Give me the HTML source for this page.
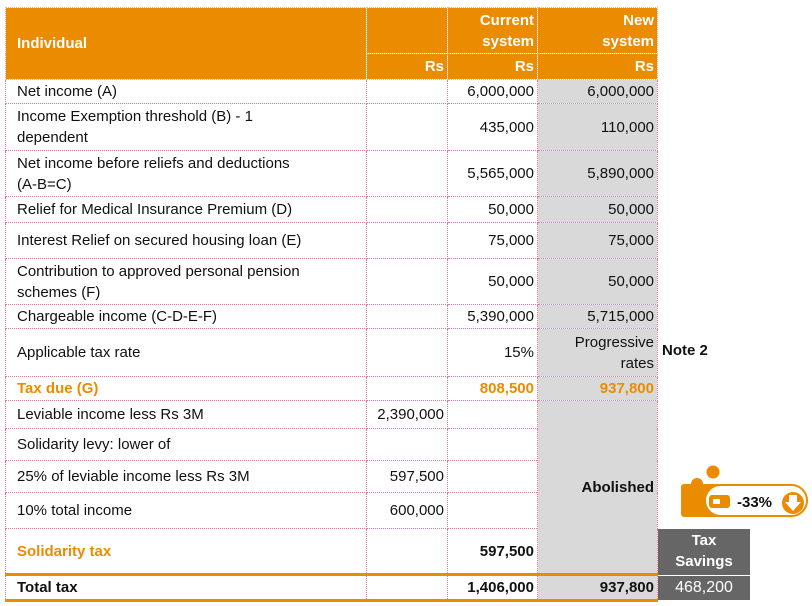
<!DOCTYPE html>
<html><head><meta charset="utf-8"><style>
body{margin:0;background:#fff;width:812px;height:606px;position:relative;overflow:hidden;font-family:"Liberation Sans",sans-serif;font-size:15px;color:#111}
table{position:absolute;left:5px;top:7px;border-collapse:collapse;table-layout:fixed}
td{border:1px dotted #e27a96;padding:0 3px 0 11px;line-height:21px;vertical-align:middle;overflow:hidden}
td.n{text-align:right;padding:0 3px 0 3px}
.h td{background:#eb8c00;color:#fff;font-weight:bold;border-color:#f5b0a0}
.g{background:#d9d9d9}
.o{color:#eb8c00;font-weight:bold}
.b{font-weight:bold}
tr.t td{border-top:3px solid #eb8c00;border-bottom:3px solid #eb8c00}
</style></head><body>
<table>
<colgroup><col style="width:361px"><col style="width:81px"><col style="width:90px"><col style="width:120px"></colgroup>
<tr class="h" style="height:46px"><td rowspan="2">Individual</td><td></td><td class="n">Current<br>system</td><td class="n">New<br>system</td></tr>
<tr class="h" style="height:26px"><td class="n">Rs</td><td class="n">Rs</td><td class="n">Rs</td></tr>
<tr style="height:24px"><td>Net income (A)</td><td></td><td class="n">6,000,000</td><td class="n g">6,000,000</td></tr>
<tr style="height:47px"><td>Income Exemption threshold (B) - 1<br>dependent</td><td></td><td class="n">435,000</td><td class="n g">110,000</td></tr>
<tr style="height:46px"><td>Net income before reliefs and deductions<br>(A-B=C)</td><td></td><td class="n">5,565,000</td><td class="n g">5,890,000</td></tr>
<tr style="height:26px"><td>Relief for Medical Insurance Premium (D)</td><td></td><td class="n">50,000</td><td class="n g">50,000</td></tr>
<tr style="height:36px"><td>Interest Relief on secured housing loan (E)</td><td></td><td class="n">75,000</td><td class="n g">75,000</td></tr>
<tr style="height:46px"><td>Contribution to approved personal pension<br>schemes (F)</td><td></td><td class="n">50,000</td><td class="n g">50,000</td></tr>
<tr style="height:24px"><td>Chargeable income (C-D-E-F)</td><td></td><td class="n">5,390,000</td><td class="n g">5,715,000</td></tr>
<tr style="height:48px"><td>Applicable tax rate</td><td></td><td class="n">15%</td><td class="n g">Progressive<br>rates</td></tr>
<tr style="height:24px"><td class="o">Tax due (G)</td><td></td><td class="n o">808,500</td><td class="n g o">937,800</td></tr>
<tr style="height:28px"><td>Leviable income less Rs 3M</td><td class="n">2,390,000</td><td></td><td class="n g b" rowspan="5" style="border-bottom:none">Abolished</td></tr>
<tr style="height:32px"><td>Solidarity levy: lower of</td><td></td><td></td></tr>
<tr style="height:32px"><td>25% of leviable income less Rs 3M</td><td class="n">597,500</td><td></td></tr>
<tr style="height:36px"><td>10% total income</td><td class="n">600,000</td><td></td></tr>
<tr style="height:46px"><td class="o">Solidarity tax</td><td></td><td class="n b">597,500</td></tr>
<tr class="t" style="height:26px"><td class="b">Total tax</td><td></td><td class="n b">1,406,000</td><td class="n g b">937,800</td></tr>
</table>
<div style="position:absolute;left:662px;top:342px;font-weight:bold">Note 2</div>
<div style="position:absolute;left:658px;top:529px;width:92px;height:45px;background:#666;color:#fff;font-weight:bold;text-align:center;line-height:21px;padding-top:1px">Tax<br>Savings</div>
<div style="position:absolute;left:658px;top:576px;width:92px;height:24px;background:#666;color:#fff;text-align:center;line-height:24px;font-size:16px">468,200</div>
<svg style="position:absolute;left:675px;top:455px" width="137" height="70">
<circle cx="38" cy="17" r="6.5" fill="#eb8c00"/>
<path d="M16 29 a6 6 0 0 1 12 0 z" fill="#eb8c00"/>
<rect x="6" y="29" width="44" height="33" rx="3" fill="#eb8c00"/>
<rect x="30" y="30" width="102" height="31" rx="15.5" fill="#fff" stroke="#eb8c00" stroke-width="2"/>
<rect x="34" y="40" width="21" height="13" rx="3" fill="#eb8c00"/>
<rect x="38" y="44" width="7" height="5" fill="#fff"/>
<text x="62" y="52" font-family="Liberation Sans" font-size="15" font-weight="bold" fill="#111">-33%</text>
<circle cx="118" cy="48" r="11" fill="#eb8c00"/>
<path d="M114 40 h8 v7 h4 l-8 9 l-8 -9 h4 z" fill="#fff"/>
</svg>
</body></html>
